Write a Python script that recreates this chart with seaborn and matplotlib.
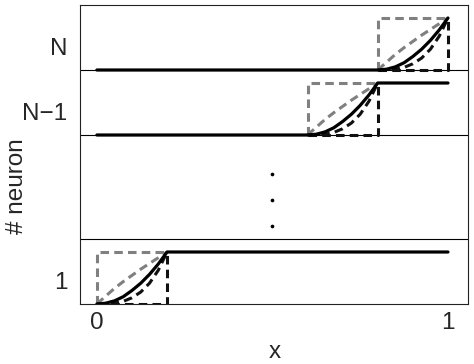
#!/usr/bin/env python3
"""Neuron response curves: one ramp per neuron with upper/lower bounds."""

import matplotlib

matplotlib.use("Agg")
import matplotlib.pyplot as plt
import numpy as np
import pandas as pd
import seaborn as sns

# Neurons shown (bottom to top)
NEURON_LABELS = ["1", "N\u22121", "N"]
NEURON_BASE = [0.0, 3.25, 4.5]      # baseline of each neuron row
RAMP_START = [0.0, 0.6, 0.8]        # x where each neuron starts to rise
RAMP_WIDTH = 0.2
RAMP_HEIGHT = 1.0
ROW_DIVIDERS = [1.25, 3.25, 4.5]

# Shape of the ramp (normalised position -> normalised response)
RAMP_T = [0.0, 0.125, 0.25, 0.375, 0.5, 0.625, 0.75, 0.875, 1.0]
FIT_CURVE = [0.0, 0.015, 0.06, 0.14, 0.26, 0.40, 0.57, 0.77, 1.0]
UPPER_CURVE = [0.0, 0.15, 0.30, 0.43, 0.55, 0.67, 0.78, 0.89, 1.0]
LOWER_CURVE = [0.0, 0.002, 0.016, 0.05, 0.12, 0.23, 0.40, 0.65, 1.0]

# "..." between rows
DOTS_X = [0.5, 0.5, 0.5]
DOTS_Y = [1.5, 2.0, 2.5]

GRAY = "#808080"
DARK = "#111111"
DASH = (0, (2.8, 1.7))
FONT = 17.5


def ramp_frame(start, base, shape, pad=True):
    xs = [start + t * RAMP_WIDTH for t in RAMP_T]
    ys = [base + v * RAMP_HEIGHT for v in shape]
    if pad:
        xs = [0.0] + xs + [1.0]
        ys = [base] + ys + [base + RAMP_HEIGHT]
    return pd.DataFrame({"x": xs, "y": ys})


def box_frame(start, base, upper):
    x0, x1 = start, start + RAMP_WIDTH
    y0, y1 = base, base + RAMP_HEIGHT
    if upper:
        return pd.DataFrame({"x": [x0, x0, x1], "y": [y0, y1, y1]})
    return pd.DataFrame({"x": [x0, x1, x1], "y": [y0, y0, y1]})


def main():
    sns.set_style("white")
    plt.rcParams["font.family"] = ["Liberation Sans", "DejaVu Sans"]
    plt.rcParams["axes.edgecolor"] = "#222222"
    plt.rcParams["axes.linewidth"] = 0.8

    fig = plt.figure(figsize=(4.74, 3.64), dpi=100)
    ax = fig.add_axes([80 / 474, 60 / 364, 388 / 474, 299 / 364])

    for y in ROW_DIVIDERS:
        ax.axhline(y, color="black", lw=0.8, zorder=1)

    line_kw = dict(estimator=None, sort=False, ax=ax, legend=False)
    dash_kw = dict(lw=2.2, linestyle=DASH, zorder=2, **line_kw)
    for start, base in zip(RAMP_START, NEURON_BASE):
        sns.lineplot(data=box_frame(start, base, True), x="x", y="y",
                     color=GRAY, **dash_kw)
        sns.lineplot(data=ramp_frame(start, base, UPPER_CURVE, pad=False),
                     x="x", y="y", color=GRAY, **dash_kw)
        sns.lineplot(data=box_frame(start, base, False), x="x", y="y",
                     color=DARK, **dash_kw)
        sns.lineplot(data=ramp_frame(start, base, LOWER_CURVE, pad=False),
                     x="x", y="y", color=DARK, **dash_kw)
        curve = ramp_frame(start, base, FIT_CURVE)
        curve = curve[curve["x"] <= 1.0]
        sns.lineplot(data=curve, x="x", y="y", color="black", lw=2.3,
                     zorder=3, **line_kw)

    sns.scatterplot(x=DOTS_X, y=DOTS_Y, color="black", s=7, linewidth=0,
                    ax=ax, zorder=3)

    ax.set_xlim(-0.048, 1.057)
    ax.set_ylim(0, 5.75)
    ax.set_xticks([0, 1])
    ax.set_xticklabels(["0", "1"])
    ax.set_yticks([b + 0.45 for b in NEURON_BASE])
    ax.set_yticklabels(NEURON_LABELS)
    ax.tick_params(axis="both", length=0, labelsize=FONT)
    ax.tick_params(axis="x", pad=6)
    ax.tick_params(axis="y", pad=9)

    ax.set_xlabel("x", fontsize=FONT)
    ax.set_ylabel("# neuron", fontsize=FONT)
    ax.xaxis.set_label_coords(0.503, -0.125)
    ax.yaxis.set_label_coords(-0.135, 0.395)

    for spine in ax.spines.values():
        spine.set_visible(True)

    fig.savefig("out.png", dpi=100)
    plt.close(fig)


if __name__ == "__main__":
    main()
